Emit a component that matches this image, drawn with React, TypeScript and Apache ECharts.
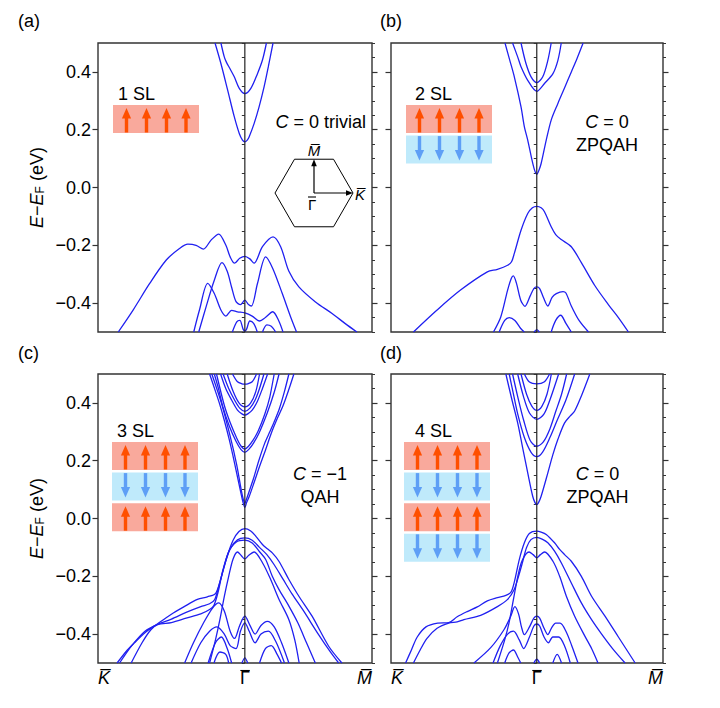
import React, { useEffect, useRef } from 'react';
import * as echarts from 'echarts';

const FONT = '"Liberation Sans", Arial, Helvetica, sans-serif';
const BAND = '#2020f0';
const AXIS = '#333333';

// k axis: K = -1, Gamma = 0, M = |GM|/|GK| = 0.866
const kMin = -1;
const kMax = 0.866;
const kTickValues = [-1, 0, 0.866];
const kTickNames = ['K', 'Γ', 'M'];
const yMajorTicks = [-0.4, -0.2, 0, 0.2, 0.4];
const yMin = -0.5;
const yMax = 0.5;

// ---------- panel (a): 1 SL ----------
const a_cb1 = [[-0.203,0.5],[-0.163,0.429],[-0.117,0.337],[-0.072,0.245],[-0.038,0.187],[-0.016,0.164],[0,0.158],[0.015,0.163],[0.029,0.175],[0.063,0.221],[0.097,0.279],[0.131,0.348],[0.16,0.418],[0.192,0.5]];
const a_cb2 = [[-0.163,0.5],[-0.14,0.452],[-0.125,0.433],[-0.1,0.41],[-0.072,0.383],[-0.038,0.343],[0,0.325],[0.041,0.343],[0.086,0.394],[0.12,0.441],[0.147,0.5]];
const a_vb1 = [[-0.862,-0.5],[-0.761,-0.424],[-0.648,-0.332],[-0.535,-0.251],[-0.445,-0.211],[-0.388,-0.196],[-0.332,-0.2],[-0.282,-0.213],[-0.23,-0.182],[-0.178,-0.161],[-0.129,-0.2],[-0.1,-0.24],[-0.07,-0.262],[-0.035,-0.245],[0,-0.238],[0.034,-0.247],[0.063,-0.262],[0.12,-0.205],[0.192,-0.171],[0.244,-0.205],[0.3,-0.29],[0.368,-0.344],[0.481,-0.396],[0.594,-0.436],[0.684,-0.471],[0.763,-0.5]];
const a_vb2 = [[-0.314,-0.5],[-0.264,-0.413],[-0.208,-0.321],[-0.156,-0.26],[-0.12,-0.29],[-0.09,-0.345],[-0.06,-0.395],[-0.03,-0.405],[0,-0.39],[0.025,-0.405],[0.045,-0.41],[0.086,-0.332],[0.142,-0.24],[0.19,-0.28],[0.255,-0.367],[0.312,-0.448],[0.352,-0.5]];
const a_vb3 = [[-0.348,-0.5],[-0.309,-0.424],[-0.253,-0.332],[-0.208,-0.367],[-0.163,-0.424],[-0.129,-0.445],[-0.09,-0.425],[-0.05,-0.43],[0,-0.434],[0.05,-0.445],[0.1,-0.462],[0.14,-0.45],[0.19,-0.43],[0.23,-0.46],[0.26,-0.5]];
const a_vb4 = [[-0.085,-0.5],[-0.055,-0.465],[-0.034,-0.46],[-0.012,-0.49],[0,-0.497],[0.012,-0.49],[0.034,-0.462],[0.06,-0.47],[0.085,-0.5]];
const a_vb5 = [[0.12,-0.5],[0.15,-0.475],[0.18,-0.48],[0.21,-0.5]];

// ---------- panel (b): 2 SL ----------
const b_cb1 = [[-0.218,0.5],[-0.185,0.44],[-0.154,0.383],[-0.108,0.279],[-0.085,0.21],[-0.062,0.164],[-0.035,0.1],[-0.015,0.06],[0,0.046],[0.015,0.06],[0.03,0.083],[0.065,0.164],[0.1,0.235],[0.145,0.291],[0.191,0.345],[0.237,0.4],[0.275,0.445],[0.318,0.5]];
const b_cb2 = [[-0.166,0.5],[-0.131,0.452],[-0.108,0.418],[-0.062,0.371],[0,0.333],[0.053,0.36],[0.111,0.394],[0.145,0.44],[0.168,0.5]];
const b_cb3 = [[-0.108,0.5],[-0.074,0.429],[-0.039,0.383],[0,0.363],[0.041,0.383],[0.076,0.44],[0.099,0.5]];
const b_vb1 = [[-0.846,-0.5],[-0.684,-0.424],[-0.523,-0.355],[-0.339,-0.292],[-0.27,-0.283],[-0.2,-0.269],[-0.173,-0.257],[-0.154,-0.228],[-0.108,-0.148],[-0.062,-0.09],[-0.03,-0.07],[0,-0.065],[0.03,-0.07],[0.053,-0.084],[0.099,-0.136],[0.13,-0.163],[0.168,-0.18],[0.237,-0.205],[0.306,-0.26],[0.399,-0.34],[0.491,-0.405],[0.56,-0.45],[0.629,-0.5]];
const b_vb2 = [[-0.297,-0.5],[-0.247,-0.448],[-0.2,-0.355],[-0.175,-0.315],[-0.161,-0.306],[-0.14,-0.33],[-0.11,-0.39],[-0.081,-0.411],[-0.045,-0.375],[-0.02,-0.35],[0,-0.344],[0.02,-0.35],[0.045,-0.38],[0.076,-0.41],[0.105,-0.38],[0.134,-0.367],[0.18,-0.36],[0.2,-0.365],[0.237,-0.41],[0.29,-0.46],[0.355,-0.5]];
const b_vb3 = [[-0.258,-0.5],[-0.22,-0.46],[-0.189,-0.45],[-0.15,-0.46],[-0.11,-0.488],[-0.085,-0.5]];
const b_vb4 = [[0.099,-0.5],[0.13,-0.46],[0.164,-0.442],[0.2,-0.47],[0.237,-0.5]];
const b_vb5 = [[-0.018,-0.5],[0,-0.492],[0.018,-0.5]];

// ---------- panel (c): 3 SL ----------
const c_cb1 = [[-0.24,0.5],[-0.2,0.44],[-0.174,0.4],[-0.14,0.34],[-0.106,0.273],[-0.08,0.215],[-0.061,0.17],[-0.04,0.12],[-0.027,0.089],[-0.012,0.055],[0,0.038],[0.012,0.055],[0.029,0.075],[0.06,0.12],[0.1,0.18],[0.142,0.239],[0.18,0.295],[0.22,0.345],[0.26,0.39],[0.3,0.447],[0.334,0.5]];
const c_cb2 = [[-0.225,0.5],[-0.16,0.4],[-0.1,0.285],[-0.055,0.185],[-0.025,0.1],[-0.01,0.065],[0,0.052],[0.01,0.065],[0.027,0.09],[0.06,0.14],[0.095,0.2],[0.135,0.26],[0.17,0.3],[0.2,0.335],[0.235,0.38],[0.27,0.44],[0.3,0.5]];
const c_cb3 = [[-0.208,0.5],[-0.18,0.45],[-0.151,0.389],[-0.106,0.32],[-0.061,0.268],[-0.027,0.239],[0,0.229],[0.027,0.239],[0.06,0.262],[0.097,0.296],[0.153,0.366],[0.199,0.435],[0.233,0.5]];
const c_cb4 = [[-0.193,0.5],[-0.14,0.392],[-0.1,0.332],[-0.055,0.278],[-0.025,0.25],[0,0.24],[0.025,0.25],[0.055,0.27],[0.09,0.302],[0.135,0.36],[0.17,0.42],[0.2,0.5]];
const c_cb5 = [[-0.165,0.5],[-0.13,0.45],[-0.09,0.41],[-0.05,0.375],[-0.02,0.362],[0,0.358],[0.02,0.362],[0.05,0.375],[0.085,0.405],[0.12,0.45],[0.155,0.5]];
const c_cb6 = [[-0.148,0.5],[-0.11,0.45],[-0.07,0.41],[-0.035,0.382],[0,0.371],[0.035,0.382],[0.07,0.41],[0.1,0.45],[0.13,0.5]];
const c_cb7 = [[-0.12,0.5],[-0.08,0.44],[-0.04,0.4],[0,0.386],[0.04,0.4],[0.075,0.44],[0.1,0.5]];
const c_cb8 = [[-0.084,0.5],[-0.05,0.473],[-0.02,0.466],[0,0.465],[0.02,0.466],[0.05,0.473],[0.08,0.5]];
const c_vb1 = [[-0.87,-0.5],[-0.8,-0.455],[-0.752,-0.43],[-0.68,-0.395],[-0.594,-0.364],[-0.503,-0.332],[-0.413,-0.305],[-0.323,-0.28],[-0.255,-0.271],[-0.2,-0.26],[-0.165,-0.211],[-0.12,-0.13],[-0.08,-0.075],[-0.04,-0.045],[0,-0.035],[0.04,-0.043],[0.074,-0.061],[0.12,-0.09],[0.153,-0.105],[0.187,-0.119],[0.232,-0.148],[0.3,-0.211],[0.368,-0.269],[0.458,-0.338],[0.571,-0.442],[0.661,-0.5]];
const c_vb2 = [[-0.853,-0.5],[-0.77,-0.44],[-0.68,-0.39],[-0.594,-0.366],[-0.5,-0.348],[-0.4,-0.325],[-0.3,-0.305],[-0.24,-0.295],[-0.205,-0.28],[-0.175,-0.23],[-0.14,-0.165],[-0.1,-0.105],[-0.05,-0.074],[0,-0.067],[0.05,-0.075],[0.1,-0.1],[0.15,-0.125],[0.2,-0.16],[0.26,-0.21],[0.32,-0.26],[0.4,-0.32],[0.5,-0.4],[0.58,-0.46],[0.639,-0.5]];
const c_vb3 = [[-0.774,-0.5],[-0.7,-0.43],[-0.64,-0.385],[-0.594,-0.367],[-0.5,-0.36],[-0.4,-0.345],[-0.3,-0.33],[-0.24,-0.315],[-0.21,-0.3],[-0.18,-0.25],[-0.15,-0.18],[-0.11,-0.115],[-0.06,-0.082],[0,-0.075],[0.05,-0.085],[0.1,-0.115],[0.142,-0.142],[0.187,-0.2],[0.233,-0.246],[0.3,-0.303],[0.36,-0.36],[0.42,-0.43],[0.48,-0.5]];
const c_vb4 = [[-0.24,-0.5],[-0.2,-0.42],[-0.17,-0.35],[-0.14,-0.27],[-0.11,-0.2],[-0.08,-0.14],[-0.05,-0.116],[-0.025,-0.128],[0,-0.14],[0.025,-0.128],[0.063,-0.116],[0.12,-0.153],[0.176,-0.211],[0.233,-0.28],[0.3,-0.35],[0.34,-0.42],[0.37,-0.5]];
const c_vb5 = [[-0.41,-0.5],[-0.35,-0.43],[-0.28,-0.36],[-0.22,-0.31],[-0.178,-0.292],[-0.14,-0.32],[-0.1,-0.39],[-0.07,-0.415],[-0.035,-0.37],[0,-0.338],[0.035,-0.37],[0.07,-0.4],[0.11,-0.37],[0.153,-0.356],[0.2,-0.375],[0.25,-0.43],[0.3,-0.5]];
const c_vb6 = [[-0.366,-0.5],[-0.3,-0.43],[-0.24,-0.39],[-0.19,-0.375],[-0.14,-0.4],[-0.1,-0.44],[-0.06,-0.45],[-0.03,-0.39],[0,-0.361],[0.03,-0.39],[0.07,-0.43],[0.11,-0.4],[0.16,-0.39],[0.21,-0.425],[0.27,-0.5]];
const c_vb7 = [[-0.25,-0.5],[-0.2,-0.43],[-0.16,-0.41],[-0.12,-0.45],[-0.09,-0.5]];
const c_vb8 = [[0.1,-0.5],[0.14,-0.45],[0.18,-0.44],[0.22,-0.47],[0.25,-0.5]];
const c_vb9 = [[-0.02,-0.5],[0,-0.482],[0.02,-0.5]];
const c_vb10 = [[-0.21,-0.5],[-0.17,-0.462],[-0.13,-0.47],[-0.11,-0.5]];

// ---------- panel (d): 4 SL ----------
const d_cb1 = [[-0.212,0.5],[-0.17,0.41],[-0.131,0.331],[-0.095,0.24],[-0.062,0.158],[-0.028,0.077],[-0.012,0.055],[0,0.048],[0.012,0.055],[0.03,0.077],[0.076,0.158],[0.11,0.22],[0.145,0.274],[0.191,0.331],[0.23,0.355],[0.26,0.372],[0.306,0.424],[0.364,0.5]];
const d_cb2 = [[-0.189,0.5],[-0.16,0.43],[-0.13,0.36],[-0.085,0.28],[-0.04,0.23],[0,0.214],[0.04,0.23],[0.09,0.28],[0.14,0.34],[0.2,0.41],[0.26,0.5]];
const d_cb3 = [[-0.166,0.5],[-0.13,0.42],[-0.09,0.34],[-0.045,0.27],[0,0.25],[0.045,0.265],[0.09,0.31],[0.13,0.37],[0.17,0.43],[0.205,0.5]];
const d_cb4 = [[-0.131,0.5],[-0.09,0.42],[-0.05,0.365],[0,0.343],[0.05,0.362],[0.09,0.41],[0.15,0.5]];
const d_cb5 = [[-0.108,0.5],[-0.07,0.43],[-0.035,0.39],[0,0.374],[0.035,0.388],[0.07,0.43],[0.1,0.5]];
const d_cb6 = [[-0.085,0.5],[-0.05,0.472],[0,0.466],[0.05,0.472],[0.088,0.5]];
const d_vb1 = [[-0.9,-0.5],[-0.86,-0.455],[-0.82,-0.41],[-0.76,-0.375],[-0.68,-0.362],[-0.604,-0.36],[-0.546,-0.34],[-0.477,-0.322],[-0.408,-0.306],[-0.339,-0.285],[-0.27,-0.274],[-0.212,-0.266],[-0.177,-0.255],[-0.154,-0.22],[-0.12,-0.142],[-0.085,-0.084],[-0.051,-0.052],[0,-0.044],[0.03,-0.047],[0.065,-0.055],[0.122,-0.084],[0.157,-0.107],[0.191,-0.125],[0.237,-0.148],[0.306,-0.2],[0.376,-0.269],[0.468,-0.338],[0.56,-0.41],[0.675,-0.5]];
const d_vb2 = [[-0.846,-0.5],[-0.8,-0.455],[-0.753,-0.415],[-0.684,-0.38],[-0.604,-0.362],[-0.546,-0.358],[-0.5,-0.35],[-0.385,-0.335],[-0.27,-0.305],[-0.2,-0.28],[-0.154,-0.245],[-0.125,-0.2],[-0.097,-0.15],[-0.07,-0.1],[-0.04,-0.073],[0,-0.065],[0.04,-0.072],[0.076,-0.084],[0.122,-0.113],[0.168,-0.153],[0.237,-0.223],[0.306,-0.292],[0.376,-0.35],[0.445,-0.4],[0.52,-0.45],[0.606,-0.5]];
const d_vb3 = [[-0.27,-0.5],[-0.22,-0.42],[-0.19,-0.36],[-0.16,-0.28],[-0.13,-0.2],[-0.1,-0.145],[-0.053,-0.116],[-0.025,-0.125],[0,-0.136],[0.025,-0.125],[0.053,-0.116],[0.111,-0.148],[0.157,-0.2],[0.203,-0.269],[0.26,-0.338],[0.33,-0.407],[0.376,-0.45],[0.42,-0.5]];
const d_vb4 = [[-0.431,-0.5],[-0.316,-0.447],[-0.224,-0.384],[-0.18,-0.34],[-0.15,-0.305],[-0.125,-0.33],[-0.105,-0.375],[-0.085,-0.402],[-0.05,-0.375],[-0.02,-0.345],[0,-0.338],[0.02,-0.345],[0.05,-0.38],[0.076,-0.402],[0.1,-0.38],[0.13,-0.362],[0.16,-0.362],[0.2,-0.39],[0.24,-0.44],[0.283,-0.5]];
const d_vb5 = [[-0.3,-0.5],[-0.25,-0.44],[-0.2,-0.4],[-0.16,-0.39],[-0.12,-0.42],[-0.09,-0.45],[-0.05,-0.41],[-0.02,-0.372],[0,-0.365],[0.02,-0.372],[0.05,-0.41],[0.08,-0.43],[0.11,-0.41],[0.15,-0.41],[0.19,-0.44],[0.23,-0.5]];
const d_vb6 = [[-0.22,-0.5],[-0.19,-0.465],[-0.16,-0.455],[-0.13,-0.48],[-0.11,-0.5]];
const d_vb7 = [[-0.02,-0.5],[0,-0.487],[0.02,-0.5]];
const d_vb8 = [[0.11,-0.5],[0.14,-0.47],[0.17,-0.5]];

const bandsA = [a_cb1, a_cb2, a_vb1, a_vb2, a_vb3, a_vb4, a_vb5];
const bandsB = [b_cb1, b_cb2, b_cb3, b_vb1, b_vb2, b_vb3, b_vb4, b_vb5];
const bandsC = [c_cb1, c_cb2, c_cb3, c_cb4, c_cb5, c_cb6, c_cb7, c_cb8, c_vb1, c_vb2, c_vb3, c_vb4, c_vb5, c_vb6, c_vb7, c_vb8, c_vb9, c_vb10];
const bandsD = [d_cb1, d_cb2, d_cb3, d_cb4, d_cb5, d_cb6, d_vb1, d_vb2, d_vb3, d_vb4, d_vb5, d_vb6, d_vb7, d_vb8];
const panelBands = [bandsA, bandsB, bandsC, bandsD];

// annotations
const panelLetters = ['(a)', '(b)', '(c)', '(d)'];
const slLabels = ['1 SL', '2 SL', '3 SL', '4 SL'];
const spinStacks = [['up'], ['up', 'down'], ['up', 'down', 'up'], ['up', 'down', 'up', 'down']];
const chernTexts = [['{i|C} = 0 trivial'], ['{i|C} = 0', 'ZPQAH'], ['{i|C} = −1', 'QAH'], ['{i|C} = 0', 'ZPQAH']];

// layout (pixels)
const grids = [
  { left: 98, top: 43, width: 274, height: 289 },
  { left: 391, top: 43, width: 272, height: 289 },
  { left: 98, top: 374, width: 274, height: 289 },
  { left: 391, top: 374, width: 272, height: 289 },
];
const letterPos = [[18, 21], [380, 21], [18, 353], [380, 353]];
const slPos = [[118, 94], [415, 94], [117, 431], [415, 431]];
const boxPos = [[113, 105], [406, 105], [112, 442], [404, 442]];
const chernPos = [
  { x: 366, y: [121.5], align: 'right' },
  { x: 607, y: [121.5, 144.5], align: 'center' },
  { x: 320, y: [474, 496.5], align: 'center' },
  { x: 597.5, y: [474, 496.5], align: 'center' },
];
const BOX_W = 86;
const BOX_H = 28;
const BOX_STEP = 30.6;
const ARROW_DX = [13.5, 33.5, 53.5, 73];
const RED_FILL = '#f9a99c';
const RED_ARROW = '#ff4f00';
const BLUE_FILL = '#bfeafb';
const BLUE_ARROW = '#5e9ff6';

function yLabel(v: number) {
  const r = Math.round(v * 10) / 10;
  if (Math.abs(r) < 1e-9) return '0.0';
  return (r < 0 ? '−' : '') + Math.abs(r).toFixed(1);
}

function kLabel(v: number) {
  let idx = 0;
  kTickValues.forEach((p, i) => { if (Math.abs(p - v) < 1e-6) idx = i; });
  if (idx === 1) return '{n|' + kTickNames[idx] + '}';
  return '{it|' + kTickNames[idx] + '\u0305}';
}

function buildGraphics() {
  const els: any[] = [];
  const txt = (x: number, y: number, text: string, align: string, size = 18, extra: any = {}) => ({
    type: 'text', x, y, silent: true,
    style: {
      text, fill: '#000', fontSize: size, fontFamily: FONT,
      textAlign: align, textVerticalAlign: 'middle',
      rich: { i: { fontStyle: 'italic', fontSize: size, fontFamily: FONT, fill: '#000', color: '#000' } },
      ...extra,
    },
  });
  const bar = (x1: number, x2: number, y: number) => ({
    type: 'line', silent: true, shape: { x1, y1: y, x2, y2: y }, style: { stroke: '#000', lineWidth: 1.1 },
  });
  for (let p = 0; p < 4; p++) {
    els.push(txt(letterPos[p][0], letterPos[p][1], panelLetters[p], 'left'));
    els.push(txt(slPos[p][0], slPos[p][1], slLabels[p], 'left'));
    const [bx, by] = boxPos[p];
    spinStacks[p].forEach((dir, j) => {
      const top = by + j * BOX_STEP;
      const up = dir === 'up';
      els.push({ type: 'rect', silent: true, shape: { x: bx, y: top, width: BOX_W, height: BOX_H }, style: { fill: up ? RED_FILL : BLUE_FILL } });
      const col = up ? RED_ARROW : BLUE_ARROW;
      ARROW_DX.forEach((dx) => {
        const cx = bx + dx;
        if (up) {
          els.push({ type: 'rect', silent: true, shape: { x: cx - 1.7, y: top + 12, width: 3.4, height: BOX_H - 12.5 }, style: { fill: col } });
          els.push({ type: 'polygon', silent: true, shape: { points: [[cx, top + 3], [cx - 4.6, top + 13.5], [cx + 4.6, top + 13.5]] }, style: { fill: col } });
        } else {
          els.push({ type: 'rect', silent: true, shape: { x: cx - 1.7, y: top + 0.5, width: 3.4, height: BOX_H - 12.5 }, style: { fill: col } });
          els.push({ type: 'polygon', silent: true, shape: { points: [[cx, top + BOX_H - 3], [cx - 4.6, top + BOX_H - 13.5], [cx + 4.6, top + BOX_H - 13.5]] }, style: { fill: col } });
        }
      });
    });
    const cp = chernPos[p];
    chernTexts[p].forEach((t, j) => els.push(txt(cp.x, cp.y[j], t, cp.align)));
  }
  // overline bars above the Γ labels of the bottom k axes
  [2, 3].forEach((i) => {
    const g = grids[i];
    const gx = g.left + g.width * (0 - kMin) / (kMax - kMin);
    els.push(bar(gx - 4.5, gx + 5, g.top + g.height + 7.5));
  });
  // Brillouin-zone inset in panel (a)
  const cx = 314, cy = 193, R = 39;
  const hex: number[][] = [];
  for (let i = 0; i < 6; i++) {
    const a = (Math.PI / 3) * i;
    hex.push([cx + R * Math.cos(a), cy - R * Math.sin(a)]);
  }
  const hTop = cy - R * Math.sin(Math.PI / 3);
  els.push({ type: 'polygon', silent: true, shape: { points: hex }, style: { fill: 'none', stroke: '#000', lineWidth: 1 } });
  els.push({ type: 'line', silent: true, shape: { x1: cx, y1: cy, x2: cx + R - 6, y2: cy }, style: { stroke: '#000', lineWidth: 1.2 } });
  els.push({ type: 'polygon', silent: true, shape: { points: [[cx + R, cy], [cx + R - 7, cy - 2.8], [cx + R - 7, cy + 2.8]] }, style: { fill: '#000' } });
  els.push({ type: 'line', silent: true, shape: { x1: cx, y1: cy, x2: cx, y2: hTop + 6 }, style: { stroke: '#000', lineWidth: 1.2 } });
  els.push({ type: 'polygon', silent: true, shape: { points: [[cx, hTop], [cx - 2.8, hTop + 7], [cx + 2.8, hTop + 7]] }, style: { fill: '#000' } });
  els.push(txt(cx, hTop - 9, 'M\u0305', 'center', 15, { fontStyle: 'italic' }));
  els.push(txt(cx - 2, cy + 11, 'Γ', 'center', 15));
  els.push(bar(cx - 6, cx + 2, cy + 4));
  els.push(txt(cx + R + 2, cy + 1, 'K\u0305', 'left', 15, { fontStyle: 'italic' }));
  return els;
}

function buildOption() {
  const xAxis: any[] = [];
  const yAxis: any[] = [];
  const series: any[] = [];
  grids.forEach((g, i) => {
    const bottomRow = i >= 2;
    const leftCol = i % 2 === 0;
    xAxis.push({
      gridIndex: i, type: 'value', min: kMin, max: kMax,
      axisLine: { show: false }, axisTick: { show: false }, splitLine: { show: false },
      axisLabel: bottomRow ? {
        show: true, customValues: kTickValues, formatter: kLabel, margin: 6,
        alignMinLabel: 'left', alignMaxLabel: 'right',
        rich: {
          it: { fontStyle: 'italic', fontSize: 18, fontFamily: FONT, color: '#000' },
          n: { fontSize: 18, fontFamily: FONT, color: '#000' },
        },
      } : { show: false },
    });
    const common = {
      gridIndex: i, type: 'value', min: yMin, max: yMax,
      axisLine: { show: false }, splitLine: { show: false },
    };
    yAxis.push({ ...common, position: 'left', interval: 0.05,
      axisTick: { show: true, length: 3, lineStyle: { color: AXIS, width: 1 } }, axisLabel: { show: false } });
    yAxis.push({ ...common, position: 'left',
      axisTick: { show: true, length: 5.5, customValues: yMajorTicks, lineStyle: { color: AXIS, width: 1.2 } },
      axisLabel: leftCol ? { show: true, customValues: yMajorTicks, formatter: yLabel, fontSize: 18, fontFamily: FONT, color: '#000', margin: 7 } : { show: false },
      name: leftCol ? '{i|E}−{i|E}{s|F} (eV)' : '',
      nameLocation: 'middle', nameGap: 52, nameRotate: 90,
      nameTextStyle: {
        fontSize: 18, fontFamily: FONT, color: '#000',
        rich: {
          i: { fontStyle: 'italic', fontSize: 18, fontFamily: FONT, color: '#000' },
          s: { fontSize: 12, fontFamily: FONT, color: '#000', verticalAlign: 'bottom', padding: [10, 0, 0, 0], lineHeight: 12 },
        },
      },
    });
    yAxis.push({ ...common, position: 'right', interval: 0.05,
      axisTick: { show: true, length: 3, lineStyle: { color: AXIS, width: 1 } }, axisLabel: { show: false } });
    yAxis.push({ ...common, position: 'right',
      axisTick: { show: true, length: 5.5, customValues: yMajorTicks, lineStyle: { color: AXIS, width: 1.2 } }, axisLabel: { show: false } });

    panelBands[i].forEach((band, j) => {
      series.push({
        type: 'line', name: 'band' + i + '_' + j, xAxisIndex: i, yAxisIndex: i * 4,
        data: band, showSymbol: false, symbol: 'none', smooth: 0.3, silent: true,
        lineStyle: { color: BAND, width: 1.3 }, z: 2,
      });
    });
    series.push({
      type: 'line', name: 'gamma' + i, xAxisIndex: i, yAxisIndex: i * 4,
      data: [[0, yMin], [0, yMax]], showSymbol: false, symbol: 'none', silent: true,
      lineStyle: { color: '#222222', width: 1.2, type: 'solid' }, z: 3,
    });
  });
  return {
    animation: false,
    backgroundColor: '#ffffff',
    textStyle: { fontFamily: FONT },
    grid: grids.map((g) => ({ ...g, show: true, borderColor: AXIS, borderWidth: 1.4, backgroundColor: 'rgba(0,0,0,0)' })),
    xAxis, yAxis, series,
    graphic: buildGraphics(),
  };
}

export default function App() {
  const ref = useRef<HTMLDivElement>(null);
  useEffect(() => {
    const chart = echarts.init(ref.current as HTMLDivElement, null, { renderer: 'svg', width: 720, height: 708 });
    chart.setOption(buildOption() as any);
    return () => chart.dispose();
  }, []);
  return <div ref={ref} style={{ position: 'absolute', left: 0, top: 0, width: 720, height: 708, background: '#fff' }} />;
}
